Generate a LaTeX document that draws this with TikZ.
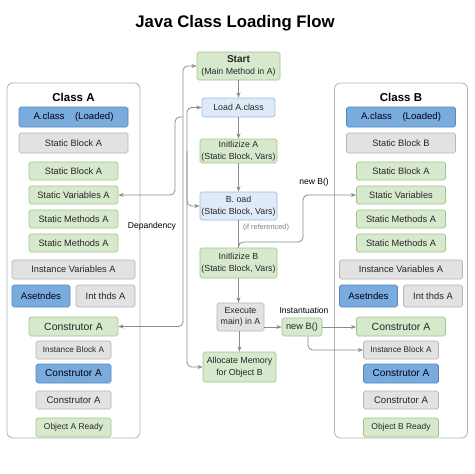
\documentclass[tikz,border=0pt]{standalone}
\usepackage{fontspec}
\setmainfont{Liberation Sans}
\usetikzlibrary{arrows.meta}
\definecolor{fillgreen}{HTML}{D7E9CC}
\definecolor{edgegreen}{HTML}{A2C48C}
\definecolor{fillgray}{HTML}{E2E2E2}
\definecolor{edgegray}{HTML}{B5B5B5}
\definecolor{fillblue}{HTML}{79ACDD}
\definecolor{edgeblue}{HTML}{5287C2}
\definecolor{fillpale}{HTML}{DEEAF8}
\definecolor{edgepale}{HTML}{9BBBDF}
\definecolor{linegray}{HTML}{8C8C8C}
\tikzstyle{box}=[rectangle,rounded corners=1.5pt,inner sep=0,align=center,line width=0.6pt,text=black!85,font=\fontsize{7.9}{9.2}\selectfont]
\tikzstyle{greenbox}=[box,draw=edgegreen,fill=fillgreen]
\tikzstyle{graybox}=[box,draw=edgegray,fill=fillgray]
\tikzstyle{bluebox}=[box,draw=edgeblue,fill=fillblue,text=black!90!blue]
\tikzstyle{palebox}=[box,draw=edgepale,fill=fillpale]
\tikzstyle{mid}=[font=\fontsize{7.5}{10}\selectfont]
\tikzstyle{panel}=[draw=edgegray,fill=white,rounded corners=5pt,line width=0.7pt]
\tikzstyle{tag}=[inner sep=0,font=\fontsize{7.3}{8.5}\selectfont]
\tikzstyle{arrow}=[line width=0.7pt,draw=linegray,rounded corners=4pt,-{Stealth[length=4.5pt,width=3.5pt]}]
\tikzstyle{twoway}=[arrow,{Stealth[length=4.5pt,width=3.5pt]}-{Stealth[length=4.5pt,width=3.5pt]}]
\tikzstyle{plainline}=[line width=0.7pt,draw=linegray]
\tikzset{wh/.style 2 args={minimum width=#1*0.03cm,minimum height=#2*0.03cm}}

\begin{document}
\begin{tikzpicture}[x=0.03cm,y=-0.03cm]
\path[use as bounding box,fill=white] (0,0) rectangle (474,474);
\node[font=\bfseries\fontsize{14.3}{17}\selectfont] (title) at (235,23) {Java Class Loading Flow};

% the two class panels
\foreach \s/\dx/\blk/\vtxt/\obj in {A/0/Static Block A/Static Variables A/Object A Ready,B/327.5/Static Block B/Static Variables/Object B Ready}{
\begin{scope}[xshift=\dx*0.03cm]
\draw[panel] (7,83) rectangle (140,438);
\node[font=\bfseries\fontsize{9.8}{11}\selectfont] (name\s) at (73.5,97) {Class \s};
\node[bluebox,wh={109}{20},font=\fontsize{8.2}{10}\selectfont] (loaded\s) at (73.5,117) {A.class\hspace{1.1em}(Loaded)};
\node[graybox,wh={109}{20}] (sblk\s) at (73.5,143) {\blk};
\node[greenbox,wh={89}{18}] (sb\s) at (73.5,171) {Static Block A};
\node[greenbox,wh={89}{18}] (sv\s) at (73.5,195) {\vtxt};
\node[greenbox,wh={89}{18}] (smo\s) at (73.5,219) {Static Methods A};
\node[greenbox,wh={89}{18}] (smt\s) at (73.5,243) {Static Methods A};
\node[graybox,wh={123}{19}] (iv\s) at (73.5,269.5) {Instance Variables A};
\node[bluebox,wh={58}{22},font=\fontsize{8.2}{10}\selectfont] (aset\s) at (41,296) {Asetndes};
\node[graybox,wh={59}{22},font=\fontsize{8}{10}\selectfont] (int\s) at (105.5,296) {Int thds A};
\node[greenbox,wh={89}{19},font=\fontsize{8.9}{10}\selectfont] (cons\s) at (73.5,326.5) {Construtor A};
\node[graybox,wh={75}{18},font=\fontsize{7}{8}\selectfont] (ib\s) at (73.5,350) {Instance Block A};
\node[bluebox,wh={75}{19},font=\fontsize{8.6}{10}\selectfont] (consb\s) at (73.5,373.5) {Construtor A};
\node[graybox,wh={75}{18},font=\fontsize{8.2}{10}\selectfont] (consg\s) at (73.5,400) {Construtor A};
\node[greenbox,wh={75}{19},font=\fontsize{7.2}{8}\selectfont] (ready\s) at (73.5,427.5) {\obj};
\end{scope}}

% flow in the middle
\node[greenbox,mid,wh={83}{28}] (start) at (238.5,66) {{\bfseries\fontsize{8.6}{10}\selectfont Start}\\(Main Method in A)};
\node[palebox,mid,wh={73}{19}] (loadA) at (238.5,107.5) {Load A.class};
\node[greenbox,mid,wh={77}{24}] (initA) at (238.5,151) {Initlizize A\\(Static Block, Vars)};
\node[palebox,mid,wh={77}{28}] (loadB) at (238.5,206) {B. oad\\(Static Block, Vars)};
\node[greenbox,mid,wh={77}{30}] (initB) at (238.5,263) {Initlizize B\\(Static Block, Vars)};
\node[graybox,mid,wh={47}{28}] (exec) at (240.5,317) {Execute\\main) in A};
\node[greenbox,wh={40}{18}] (newB) at (302,327) {new B()};
\node[greenbox,mid,wh={73}{30}] (alloc) at (239.5,367) {Allocate Memory\\for Object B};

\node[tag] (instLbl) at (304,310) {Instantuation};
\node[tag] (newLbl) at (314,182) {new B()};
\node[tag,text=black!50,font=\fontsize{6.3}{7.5}\selectfont] (ifLbl) at (266,228) {(if referenced)};
\node[tag] (depLbl) at (152,226) {Depandency};

\coordinate (railA) at (183,66);
\coordinate (railB) at (187,108);
\coordinate (railS) at (175,117);
\coordinate (bend) at (303,242);

\draw[arrow] (start) -- (loadA);
\draw[arrow] (loadA) -- (initA);
\draw[arrow] (initA) -- (loadB);
\draw[plainline] (loadB) -- (initB);
\draw[arrow] (initB) -- (initB |- exec.north);
\draw[arrow] (exec.south -| alloc) -- (alloc);
\draw[arrow] (exec.east |- newB) -- (newB);
\draw[arrow] (newB) -- (newB -| consB.west);
\draw[arrow] ([xshift=0.18cm]newB.south) |- (ibB.west);
\draw[arrow] (initB.north) |- (bend) |- (svB.west);
\draw[twoway] (consA.east) -- (consA.east -| railA) |- (start.west);
\draw[arrow] (railS -| railA) -- (railS) |- (svA.east);
\draw[twoway] (loadA.west) -| (railB |- alloc.west) -- (alloc.west);
\draw[arrow] (railB |- initA) |- (loadB.west);
\end{tikzpicture}
\end{document}
